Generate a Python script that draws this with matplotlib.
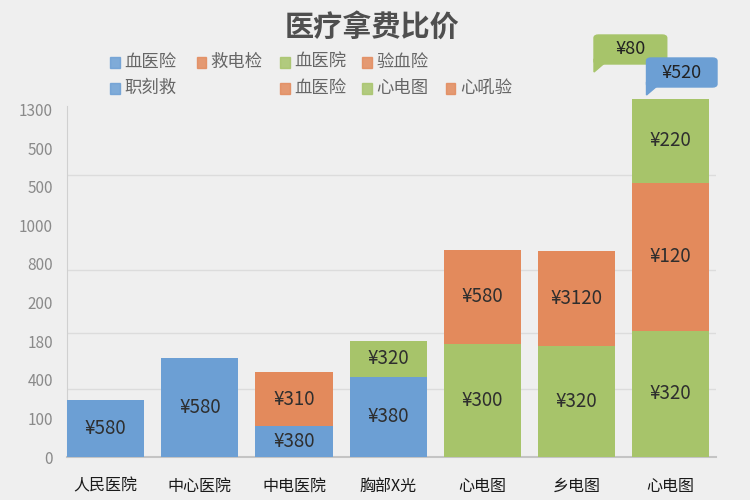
import matplotlib
matplotlib.use('Agg')
import matplotlib.pyplot as plt
from matplotlib.patches import Rectangle, FancyBboxPatch, Polygon

plt.rcParams['font.family'] = ['Noto Sans CJK SC', 'DejaVu Sans']

# data (bar heights in axis units, labels as printed)
categories = ['人民医院', '中心医院', '中电医院', '胸部X光', '心电图', '乡电图', '心电图']
seg1 = [148, 257, 80, 208, 293, 288, 327]      # bottom segment
seg2 = [0, 0, 140, 93, 243, 246, 384]          # middle segment
seg3 = [0, 0, 0, 0, 0, 0, 217]                 # top segment
seg1_colors = ['blue', 'blue', 'blue', 'blue', 'green', 'green', 'green']
seg2_colors = ['', '', 'orange', 'green', 'orange', 'orange', 'orange']
seg3_colors = ['', '', '', '', '', '', 'green']
seg1_labels = ['¥580', '¥580', '¥380', '¥380', '¥300', '¥320', '¥320']
seg2_labels = ['', '', '¥310', '¥320', '¥580', '¥3120', '¥120']
seg3_labels = ['', '', '', '', '', '', '¥220']
ytick_vals = [0, 100, 200, 300, 400, 500, 600, 700, 800, 900]
ytick_labels = ['0', '100', '400', '180', '200', '800', '1000', '500', '500', '1300']
legend_row1 = [('血医险', 'blue'), ('救电检', 'orange'), ('血医院', 'green'), ('验血险', 'orange')]
legend_row2 = [('职刻救', 'blue'), None, ('血医险', 'orange'), ('心电图', 'green'), ('心吼验', 'orange')]
callouts = [('¥80', 'green'), ('¥520', 'blue')]

palette = {'blue': '#6c9fd4', 'orange': '#e38a5c', 'green': '#a7c46a'}
bg = '#efefef'

fig = plt.figure(figsize=(7.5, 5), dpi=100, facecolor=bg)
ax = fig.add_axes([0.0893, 0.086, 0.8653, 0.718], facecolor=bg)

x = list(range(len(categories)))
w = 0.82
bottoms = [0] * len(x)
for seg, cols, labs in [(seg1, seg1_colors, seg1_labels),
                        (seg2, seg2_colors, seg2_labels),
                        (seg3, seg3_colors, seg3_labels)]:
    for i in x:
        if seg[i] <= 0:
            continue
        ax.bar(i, seg[i], bottom=bottoms[i], width=w, color=palette[cols[i]],
               edgecolor='none', zorder=3, clip_on=False)
        ax.text(i, bottoms[i] + seg[i] / 2, labs[i], ha='center', va='center',
                fontsize=13.5, color='#2e2e2e', zorder=4)
        bottoms[i] += seg[i]

# faint horizontal lines
for g in [176, 321, 484, 730]:
    ax.axhline(g, color='#dcdcdc', lw=1, zorder=1)

ax.set_xlim(-w / 2, 6.48)
ax.set_ylim(0, 930)
ax.set_yticks(ytick_vals)
ax.set_yticklabels(ytick_labels, color='#8a8a8a', fontsize=11)
ax.set_xticks(x)
ax.set_xticklabels(categories, fontsize=11.5, color='#1a1a1a')
ax.tick_params(axis='both', length=0)
ax.tick_params(axis='x', pad=15)
ax.tick_params(axis='y', pad=10)
for s in ['top', 'right']:
    ax.spines[s].set_visible(False)
ax.spines['left'].set_color('#d0d0d0')
ax.spines['left'].set_bounds(0, 910)
ax.spines['bottom'].set_color('#c4c4c4')
ax.spines['bottom'].set_linewidth(1.5)

fig.text(0.496, 0.947, '医疗拿费比价', ha='center', va='center', fontsize=21,
         color='#4f4f4f', fontweight='bold')

# legend drawn by hand in two rows
lx = [0.147, 0.262, 0.373, 0.483, 0.594]
for row, yy in [(legend_row1, 0.876), (legend_row2, 0.824)]:
    for k, item in enumerate(row):
        if item is None:
            continue
        name, col = item
        xx = lx[k] if row is legend_row1 else [lx[0], None, lx[2], lx[3], lx[4]][k]
        fig.patches.append(Rectangle((xx, yy - 0.012), 0.013, 0.022, transform=fig.transFigure,
                                     color=palette[col], alpha=0.85))
        fig.text(xx + 0.019, yy, name, ha='left', va='center', fontsize=12.5, color='#666666')

# callout boxes above the last bar
box_pos = [(0.792, 0.872, 0.097, 0.058), (0.862, 0.826, 0.094, 0.058)]
for (txt, col), (bx, by, bw, bh) in zip(callouts, box_pos):
    fig.patches.append(FancyBboxPatch((bx, by), bw, bh, boxstyle='round,pad=0,rounding_size=0.006',
                                      transform=fig.transFigure, color=palette[col], zorder=5))
    fig.patches.append(Polygon([(bx, by + 0.01), (bx + 0.014, by + 0.002), (bx, by - 0.016)],
                               closed=True, transform=fig.transFigure, color=palette[col], zorder=5))
    fig.text(bx + bw / 2, by + bh / 2, txt, ha='center', va='center', fontsize=13,
             color='#222222', zorder=6)

plt.savefig('out.png', dpi=100, facecolor=bg)
plt.close()
